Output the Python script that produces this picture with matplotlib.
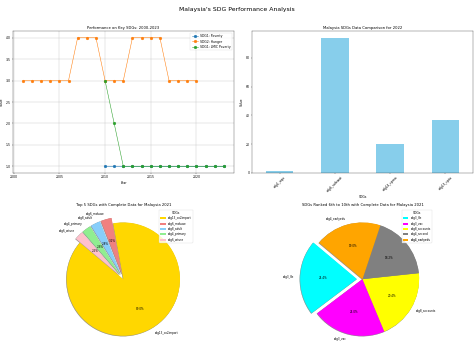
import matplotlib.pyplot as plt
import numpy as np

plt.rcParams['font.size'] = 9

# line chart data
years_pov = list(range(2010, 2024))
pov = [1.0] * 14
years_hun = list(range(2001, 2021))
hun = [3, 3, 3, 3, 3, 3, 4, 4, 4, 3, 3, 3, 4, 4, 4, 4, 3, 3, 3, 3]
years_lmic = list(range(2010, 2024))
lmic = [3.0, 2.0] + [1.0] * 12

# bar chart data
bar_labels = ['sdg1_wpc', 'sdg6_safewat', 'sdg14_cpma', 'sdg15_cpta']
bar_vals = [1.0, 93.8, 20.0, 36.9]

# pie 1 data
pie1_labels = ['sdg13_co2import', 'sdg6_mdsuse', 'sdg8_adult', 'sdg4_primary', 'sdg6_wtuse']
pie1_vals = [89.0, 3.1, 2.8, 2.6, 2.5]
pie1_colors = ['gold', 'lightcoral', 'lightskyblue', 'lightgreen', 'pink']

# pie 2 data
pie2_labels = ['sdg3_lfe', 'sdg3_vac', 'sdg8_accounts', 'sdg4_second', 'sdg4_earlyedu']
pie2_vals = [21.4, 21.0, 20.4, 18.2, 19.0]
pie2_colors = ['cyan', 'magenta', 'yellow', 'grey', 'orange']

fig, axs = plt.subplots(2, 2, figsize=(18.96, 14))
plt.subplots_adjust(left=0.027, right=0.998, top=0.911, bottom=0.0, hspace=0.25, wspace=0.082)
fig.suptitle("Malaysia's SDG Performance Analysis", fontsize=17.6)

ax = axs[0, 0]
ax.plot(years_pov, pov, marker='o', markersize=8, label='SDG1: Poverty')
ax.plot(years_hun, hun, marker='o', markersize=8, label='SDG2: Hunger')
ax.plot(years_lmic, lmic, marker='o', markersize=8, label='SDG1: LMIC Poverty')
ax.set_title('Performance on Key SDGs: 2000-2023')
ax.set_xlabel('Year')
ax.set_ylabel('Value')
ax.legend(loc='upper right')
ax.grid(True)

ax = axs[0, 1]
x = np.arange(len(bar_vals))
ax.bar(x, bar_vals, width=0.5, color='skyblue')
ax.set_xticks(x)
ax.set_xticklabels(bar_labels, rotation=45)
ax.set_xlim(-0.5, len(bar_vals) - 0.5)
ax.set_title('Malaysia SDGs Data Comparison for 2022')
ax.set_xlabel('SDGs')
ax.set_ylabel('Value')

ax = axs[1, 0]
ax.pie(pie1_vals, labels=pie1_labels, colors=pie1_colors, autopct='%1.1f%%',
       startangle=140, shadow=True, explode=[0, 0.1, 0.1, 0.1, 0.1], textprops={'fontsize': 8})
ax.set_title('Top 5 SDGs with Complete Data for Malaysia 2021')
ax.legend(title='SDGs', loc='upper right', fontsize=8)

ax = axs[1, 1]
ax.pie(pie2_vals, labels=pie2_labels, colors=pie2_colors, autopct='%1.1f%%',
       startangle=140, shadow=True, explode=[0.1, 0, 0, 0, 0], textprops={'fontsize': 8})
ax.set_title('SDGs Ranked 6th to 10th with Complete Data for Malaysia 2021')
ax.legend(title='SDGs', loc='upper right', fontsize=8)

plt.savefig('out.png', dpi=25)
